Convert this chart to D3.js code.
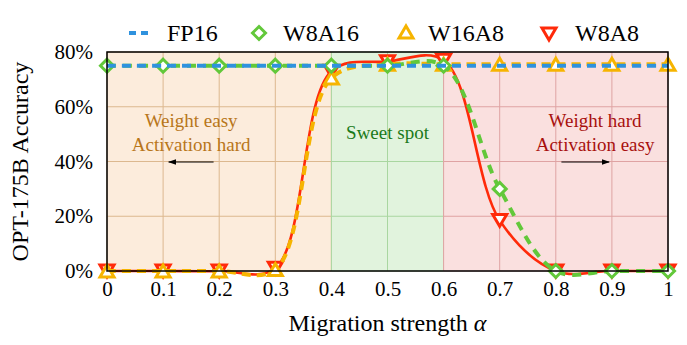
<!DOCTYPE html>
<html><head><meta charset="utf-8">
<script src="https://cdn.jsdelivr.net/npm/d3@7"></script>
<style>body{margin:0;background:#fff}svg{display:block}svg text{font-family:"Liberation Serif","Times New Roman",Times,"DejaVu Serif",serif}</style>
</head><body><svg id="c" width="687" height="345"></svg>
<script>
const alpha = [0,0.1,0.2,0.3,0.4,0.5,0.6,0.7,0.8,0.9,1];
const xTickLabels = ["0","0.1","0.2","0.3","0.4","0.5","0.6","0.7","0.8","0.9","1"];
const yTicks = [0,20,40,60,80];
const fp16  = [75,75,75,75,75,75,75,75,75,75,75];
const w8a16 = [75,75,75,75,75,75,75,30,0,0,0];
const w16a8 = [0,0,0,0.5,70.5,75.5,75.5,75.5,75.5,75.5,75.5];
const w8a8  = [0,0,0,1,73,76.5,77,18.5,0,0,0];
const zones = [{x0:0,x1:0.4,fill:"#fcecdc",grid:"#dcb88f"},{x0:0.4,x1:0.6,fill:"#e1f3dd",grid:"#a9d6a0"},{x0:0.6,x1:1,fill:"#fae0df",grid:"#dfa3a3"}];
const FONT = '"Liberation Serif","Times New Roman",Times,"DejaVu Serif",serif';

const svg = d3.select("#c");
const m = {l:107,r:19,t:52,b:74};
const W = 687-m.l-m.r, H = 345-m.t-m.b;
const x = d3.scaleLinear().domain([0,1]).range([m.l,m.l+W]);
const y = d3.scaleLinear().domain([0,80]).range([m.t+H,m.t]);

zones.forEach(z=>{
  svg.append("rect").attr("x",x(z.x0)).attr("y",m.t).attr("width",x(z.x1)-x(z.x0)).attr("height",H).attr("fill",z.fill);
  alpha.filter(a=>a>z.x0-1e-9&&a<z.x1+1e-9).forEach(a=>{
    svg.append("line").attr("x1",x(a)).attr("x2",x(a)).attr("y1",m.t).attr("y2",m.t+H).attr("stroke",z.grid).attr("stroke-width",1);
  });
  yTicks.forEach(t=>{
    svg.append("line").attr("x1",x(z.x0)).attr("x2",x(z.x1)).attr("y1",y(t)).attr("y2",y(t)).attr("stroke",z.grid).attr("stroke-width",1);
  });
});

const xa = svg.append("g").attr("transform",`translate(0,${m.t+H})`)
  .call(d3.axisBottom(x).tickValues(alpha).tickFormat((d,i)=>xTickLabels[i]).tickSize(0).tickPadding(10));
xa.attr("font-family",FONT).attr("font-size",21);
xa.select(".domain").remove();
xa.selectAll("text").attr("fill","#000");
const ya = svg.append("g").attr("transform",`translate(${m.l},0)`)
  .call(d3.axisLeft(y).tickValues(yTicks).tickFormat(d=>d+"%").tickSize(0).tickPadding(14));
ya.attr("font-family",FONT).attr("font-size",21);
ya.select(".domain").remove();
ya.selectAll("text").attr("fill","#000");

const ann = (t,cx,cy,col)=>svg.append("text").attr("x",cx).attr("y",cy).attr("text-anchor","middle").attr("font-family",FONT).attr("font-size",19).attr("fill",col).text(t);
ann("Weight easy",x(0.15),127,"#b8761a");
ann("Activation hard",x(0.15),151,"#b8761a");
ann("Sweet spot",x(0.5),139,"#1a7a1a");
ann("Weight hard",x(0.87),127,"#a8100e");
ann("Activation easy",x(0.87),151,"#a8100e");
svg.append("defs").append("marker").attr("id","ah").attr("viewBox","0 0 10 10").attr("refX",9).attr("refY",5)
  .attr("markerWidth",7).attr("markerHeight",7).attr("orient","auto-start-reverse")
  .append("path").attr("d","M0,1.5L10,5L0,8.5z").attr("fill","#000");
svg.append("line").attr("x1",x(0.19)).attr("x2",x(0.11)).attr("y1",162).attr("y2",162).attr("stroke","#000").attr("stroke-width",1.2).attr("marker-end","url(#ah)");
svg.append("line").attr("x1",x(0.81)).attr("x2",x(0.895)).attr("y1",162).attr("y2",162).attr("stroke","#000").attr("stroke-width",1.2).attr("marker-end","url(#ah)");

const line = d3.line().x((d,i)=>x(alpha[i])).y(d=>y(d)).curve(d3.curveCatmullRom.alpha(0.5));
const diamond = s=>`M0,${-s}L${s},0L0,${s}L${-s},0Z`;
const triUp = s=>`M0,${-s}L${s},${s*0.7}L${-s},${s*0.7}Z`;
const triDn = s=>`M0,${s}L${s},${-s*0.7}L${-s},${-s*0.7}Z`;
const series = [
  {name:"W8A8",data:w8a8,color:"#ff2a0a",dash:null,width:2.6,marker:triDn(7),mdy:-1},
  {name:"W16A8",data:w16a8,color:"#f6b400",dash:"9,6",width:4,marker:triUp(7),mdy:1},
  {name:"W8A16",data:w8a16,color:"#62c83a",dash:"9,7",width:4,marker:diamond(6.5),mdy:0},
  {name:"FP16",data:fp16,color:"#2f92de",dash:"9,6",width:4,marker:null,mdy:0}
];
series.forEach(s=>{
  svg.append("path").attr("d",line(s.data)).attr("fill","none").attr("stroke",s.color).attr("stroke-width",s.width).attr("stroke-dasharray",s.dash);
  if(s.marker){
    svg.append("g").selectAll("path").data(s.data).join("path")
      .attr("transform",(d,i)=>`translate(${x(alpha[i])},${y(d)+s.mdy})`)
      .attr("d",s.marker).attr("fill","#fff").attr("stroke",s.color).attr("stroke-width",3);
  }
});
svg.append("rect").attr("x",m.l).attr("y",m.t).attr("width",W).attr("height",H).attr("fill","none").attr("stroke","#000").attr("stroke-width",1.5);

svg.append("text").attr("x",x(0.5)).attr("y",331).attr("text-anchor","middle").attr("font-family",FONT).attr("font-size",24)
  .html('Migration strength <tspan font-style="italic">α</tspan>');
svg.append("text").attr("transform",`translate(28,${m.t+H/2}) rotate(-90)`).attr("text-anchor","middle").attr("font-family",FONT).attr("font-size",24).text("OPT-175B Accuracy");

const lg = [
  {name:"FP16",color:"#2f92de",mx:140,tx:167,marker:null},
  {name:"W8A16",color:"#62c83a",mx:259,tx:283,marker:diamond(6.5)},
  {name:"W16A8",color:"#f6b400",mx:406,tx:428,marker:triUp(7)},
  {name:"W8A8",color:"#ff2a0a",mx:549,tx:575,marker:triDn(7)}
];
const ly = 33;
lg.forEach(l=>{
  if(!l.marker){
    svg.append("line").attr("x1",l.mx-11).attr("x2",l.mx+11).attr("y1",ly).attr("y2",ly).attr("stroke",l.color).attr("stroke-width",4).attr("stroke-dasharray","7,5");
  } else {
    svg.append("path").attr("transform",`translate(${l.mx},${ly})`).attr("d",l.marker).attr("fill","#fff").attr("stroke",l.color).attr("stroke-width",3);
  }
  svg.append("text").attr("x",l.tx).attr("y",ly+8).attr("font-family",FONT).attr("font-size",24).text(l.name);
});
</script></body></html>
